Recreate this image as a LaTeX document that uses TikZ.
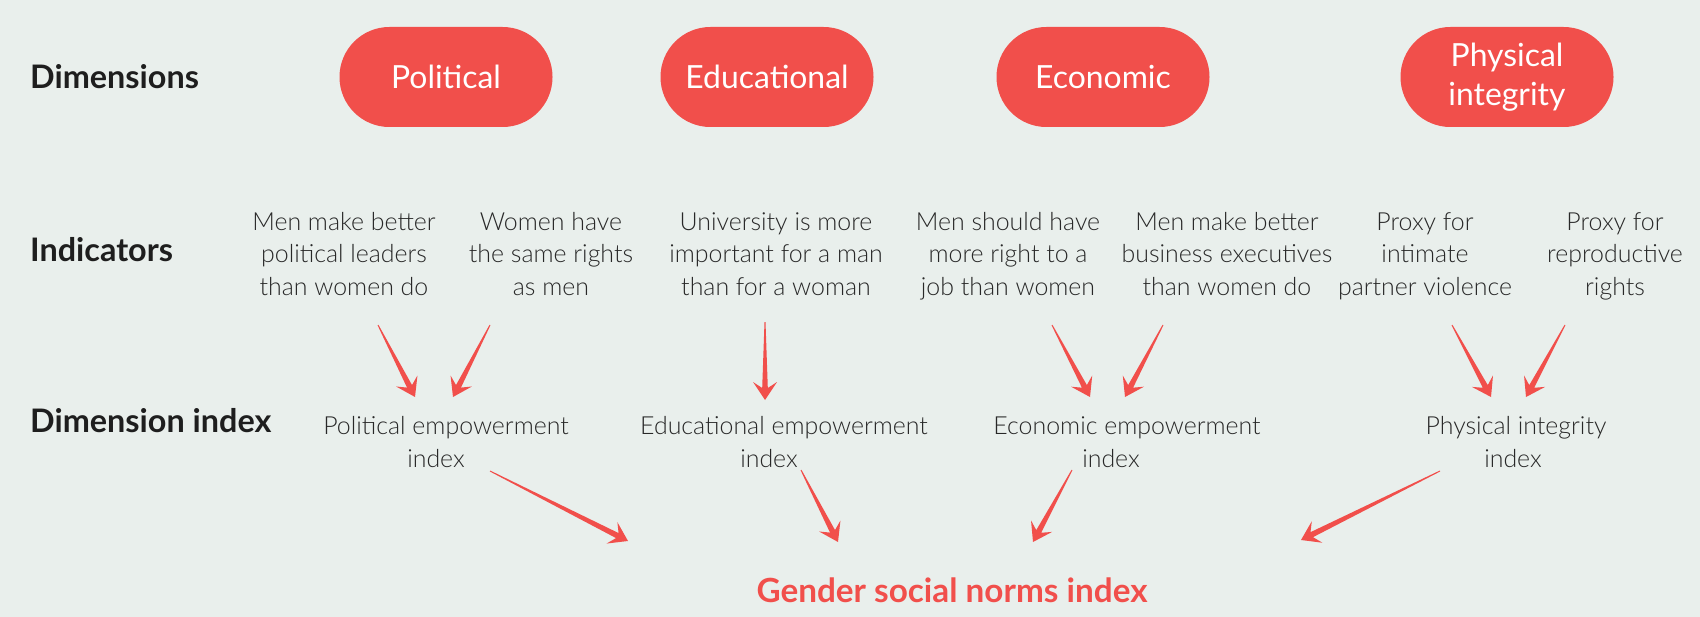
\documentclass[tikz,border=0pt]{standalone}
\usepackage{fontspec}
\setmainfont{Lato}
\newfontfamily\lightf{Lato Light}
\usetikzlibrary{calc}
\definecolor{bgc}{RGB}{233,239,236}
\definecolor{redc}{RGB}{241,79,75}
\definecolor{txtc}{RGB}{40,40,40}
\definecolor{lblc}{RGB}{30,30,30}
\newcommand\tarrow[2]{%
  \fill[redc] ($(#1)!0.5bp!90:(#2)$)
    -- ($(#2)!12bp!(#1)!2.8bp!-90:(#1)$)
    -- ($(#2)!18bp!(#1)!12bp!-90:(#1)$)
    -- (#2)
    -- ($(#2)!18bp!(#1)!12bp!90:(#1)$)
    -- ($(#2)!12bp!(#1)!2.8bp!90:(#1)$)
    -- ($(#1)!0.5bp!-90:(#2)$) -- cycle;}
\tikzset{
  pill/.style={fill=redc, rounded corners=49.9bp, minimum width=213bp, minimum height=100bp,
    text=white, font=\fontsize{32}{39}\selectfont, align=center, inner sep=0},
  rowlabel/.style={anchor=base west, inner sep=0, text=lblc, font=\fontsize{32.5}{36}\selectfont\bfseries},
  indtext/.style={anchor=base, inner sep=0, align=center, text=txtc, font=\fontsize{25}{32.5}\selectfont\lightf},
  total/.style={anchor=base, inner sep=0, text=redc, font=\fontsize{33.4}{38}\selectfont\bfseries},
}
\begin{document}
\begin{tikzpicture}[x=1bp,y=-1bp]
\fill[bgc] (0,0) rectangle (1700,617);
\useasboundingbox (0,0) rectangle (1700,617);
% row labels
\node[rowlabel] (lDim) at (30,89) {Dimensions};
\node[rowlabel] (lInd) at (30,261) {Indicators};
\node[rowlabel] (lIdx) at (30,432) {Dimension index};
% pills
\node[pill] (pPol) at (446,77) {Political};
\node[pill] (pEdu) at (767,77) {Educational};
\node[pill] (pEco) at (1103,77) {Economic};
\node[pill] (pPhy) at (1507,77) {Physical\\integrity};
% indicators (anchor = baseline of last line)
\node[indtext] (i1) at (344,295) {Men make better\\political leaders\\than women do};
\node[indtext] (i2) at (551,295) {Women have\\the same rights\\as men};
\node[indtext] (i3) at (776,295) {University is more\\important for a man\\than for a woman};
\node[indtext] (i4) at (1008,295) {Men should have\\more right to a\\job than women};
\node[indtext] (i5) at (1227,295) {Men make better\\business executives\\than women do};
\node[indtext] (i6) at (1425,295) {Proxy for\\intimate\\partner violence};
\node[indtext] (i7) at (1615,295) {Proxy for\\reproductive\\rights};
% dimension indices
\node[indtext] (d1) at (446,467) {Political empowerment\\index\hspace*{20bp}};
\node[indtext] (d2) at (784,467) {Educational empowerment\\index\hspace*{30bp}};
\node[indtext] (d3) at (1127,467) {Economic empowerment\\index\hspace*{32bp}};
\node[indtext] (d4) at (1516,467) {Physical integrity\\index\hspace*{6bp}};
% total
\node[total] (g) at (952,602) {Gender social norms index};
% arrow end points
\coordinate (a1s) at (378,325); \coordinate (a1e) at (415,397);
\coordinate (a2s) at (490,325); \coordinate (a2e) at (453,397);
\coordinate (a3s) at (765,322); \coordinate (a3e) at (765,400);
\coordinate (a4s) at (1052,325); \coordinate (a4e) at (1090,397);
\coordinate (a5s) at (1163,325); \coordinate (a5e) at (1125,397);
\coordinate (a6s) at (1452,325); \coordinate (a6e) at (1491,397);
\coordinate (a7s) at (1565,325); \coordinate (a7e) at (1526,397);
\coordinate (b1s) at (490,471); \coordinate (b1e) at (628,541);
\coordinate (b2s) at (801,470); \coordinate (b2e) at (838,542);
\coordinate (b3s) at (1072,470); \coordinate (b3e) at (1033,542);
\coordinate (b4s) at (1440,471); \coordinate (b4e) at (1301,540);
\tarrow{a1s}{a1e}
\tarrow{a2s}{a2e}
\tarrow{a3s}{a3e}
\tarrow{a4s}{a4e}
\tarrow{a5s}{a5e}
\tarrow{a6s}{a6e}
\tarrow{a7s}{a7e}
\tarrow{b1s}{b1e}
\tarrow{b2s}{b2e}
\tarrow{b3s}{b3e}
\tarrow{b4s}{b4e}
\end{tikzpicture}
\end{document}
